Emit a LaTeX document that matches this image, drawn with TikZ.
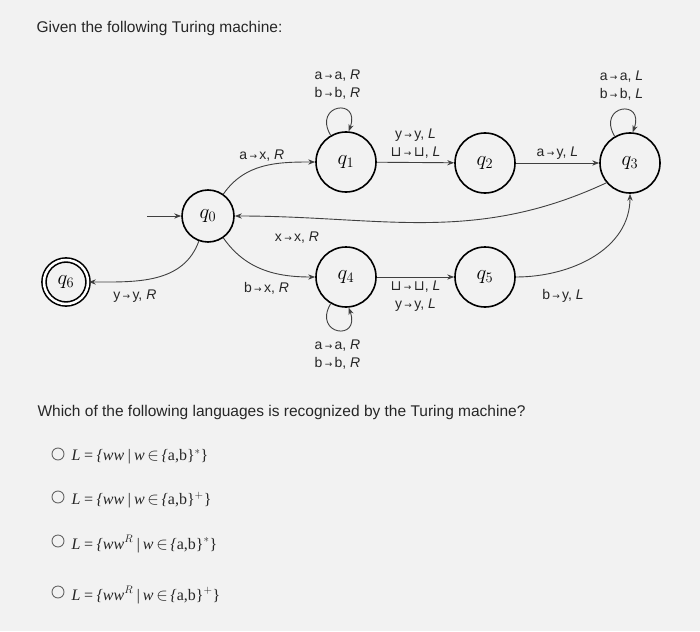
\documentclass[tikz,border=0pt]{standalone}
\usepackage{fontspec}
\setmainfont{Liberation Sans}
\newfontfamily\djv{DejaVu Sans}
\newfontfamily\srf{Liberation Serif}
\usetikzlibrary{arrows.meta}
\newcommand{\blk}{{\djv ⊔}}
\newcommand{\ra}{\,{\djv\small →}\,}
\begin{document}
\begin{tikzpicture}[x=1pt,y=-1pt,
  st/.style={circle,draw,line width=1.6pt,minimum size=60pt,inner sep=0pt,font=\fontsize{20}{22}\selectfont\itshape},
  tr/.style={->,>={Stealth[length=7pt]},line width=0.9pt,draw=black!75},
  lb/.style={font=\fontsize{14}{18}\selectfont,align=center,text=black!85},
  txt/.style={anchor=west,font=\fontsize{15.5}{18}\selectfont,text=black!85},
  opt/.style={anchor=west,font=\fontsize{16}{18}\selectfont\srf\itshape,text=black!85}]
\fill[gray!10] (0,0) rectangle (700,631);
\node[txt] (title) at (33,28) {Given the following Turing machine:};
\node[st] (q1) at (346,162) {$q_1$};
\node[st] (q2) at (485,163) {$q_2$};
\node[st] (q3) at (630,163) {$q_3$};
\node[st] (q4) at (346,277) {$q_4$};
\node[st] (q5) at (485,277) {$q_5$};
\node[st,minimum size=52pt] (q0) at (208,216) {$q_0$};
\node[st,minimum size=44pt,double,double distance=2.5pt] (q6) at (66,282) {$q_6$};
\coordinate (init) at (147,216);
\draw[tr] (init) -- (q0);
\draw[tr] (q0) to[out=55,in=180] node[lb,above,pos=0.55,xshift=-6pt] {a\ra x, \textit{R}} (q1);
\draw[tr] (q0) to[out=-55,in=180] node[lb,below,pos=0.6,yshift=-6pt,xshift=-6pt] {b\ra x, \textit{R}} (q4);
\draw[tr] (q0) to[out=-110,in=0] node[lb,below right,pos=0.85,yshift=-4pt] {y\ra y, \textit{R}} (q6);
\draw[tr] (q1) -- node[lb,above] {y\ra y, \textit{L}\\ \blk\ra\blk, \textit{L}} (q2);
\draw[tr] (q2) -- node[lb,above] {a\ra y, \textit{L}} (q3);
\draw[tr] (q4) -- node[lb,below] {\blk\ra\blk, \textit{L}\\ y\ra y, \textit{L}} (q5);
\draw[tr] (q5) to[out=0,in=-90] (q3);
\node[lb] (l53) at (563,296) {b\ra y, \textit{L}};
\draw[tr] (q3.-140) to[out=-155,in=0] (q0);
\node[lb] (l30) at (297,238) {x\ra x, \textit{R}};
\draw[tr] (q1.120) to[out=120,in=70,looseness=5] node[lb,above,yshift=6pt] {a\ra a, \textit{R}\\ b\ra b, \textit{R}} (q1.85);
\draw[tr] (q3.120) to[out=120,in=70,looseness=5] node[lb,above,yshift=6pt] {a\ra a, \textit{L}\\ b\ra b, \textit{L}} (q3.85);
\draw[tr] (q4.-120) to[out=-120,in=-70,looseness=5] node[lb,below,yshift=-6pt] {a\ra a, \textit{R}\\ b\ra b, \textit{R}} (q4.-85);
\node[txt] (ques) at (34,412) {Which of the following languages is recognized by the Turing machine?};
\foreach \y in {454,497,541,592}{\draw[black!60,line width=0.9pt] (58,\y) circle (6pt);}
\node[opt] (t1) at (68,457) {L\,=\,\{ww\,|\,w\,$\in$\,\{\upshape a,b\}$^{*}$\}};
\node[opt] (t2) at (68,500) {L\,=\,\{ww\,|\,w\,$\in$\,\{\upshape a,b\}$^{+}$\}};
\node[opt] (t3) at (68,544) {L\,=\,\{ww$^{R}$\,|\,w\,$\in$\,\{\upshape a,b\}$^{*}$\}};
\node[opt] (t4) at (68,595) {L\,=\,\{ww$^{R}$\,|\,w\,$\in$\,\{\upshape a,b\}$^{+}$\}};
\end{tikzpicture}
\end{document}
